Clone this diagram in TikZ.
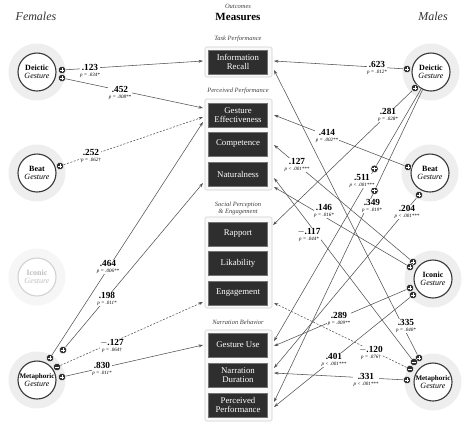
\documentclass[tikz,border=0pt]{standalone}
\usepackage{fontspec}
\setmainfont{Liberation Serif}
\usetikzlibrary{arrows.meta,calc}
\newcommand{\coefl}[2]{\textbf{#1}\\[-3pt]{\fontsize{5}{5}\selectfont\itshape p #2}}
\begin{document}
\begin{tikzpicture}[x=1pt,y=-1pt,
  halo/.style={circle, fill=gray!13, minimum size=57pt, inner sep=0pt},
  gest/.style={circle, draw=black!78, line width=1.1pt, fill=white, minimum size=38pt, inner sep=0pt, align=center, font=\fontsize{8}{8.5}\selectfont},
  fgest/.style={gest, draw=gray!35, text=gray!50},
  meas/.style={rectangle, fill=black!82, draw=black!55, text=white, minimum width=59pt, minimum height=24pt, inner sep=1pt, align=center, font=\fontsize{8.8}{9}\selectfont},
  grp/.style={rectangle, rounded corners=2pt, fill=gray!5, draw=gray!22, line width=1.2pt, minimum width=67pt, inner sep=0pt},
  badge/.style={circle, fill=black!82, draw=white, line width=0.4pt, minimum size=7.5pt, inner sep=0pt},
  plus/.style={badge, path picture={\draw[white, line width=0.9pt] ([xshift=-2.2pt]path picture bounding box.center) -- ([xshift=2.2pt]path picture bounding box.center) ([yshift=-2.2pt]path picture bounding box.center) -- ([yshift=2.2pt]path picture bounding box.center);}},
  minus/.style={badge, path picture={\draw[white, line width=0.9pt] ([xshift=-2.2pt]path picture bounding box.center) -- ([xshift=2.2pt]path picture bounding box.center);}},
  link/.style={draw=black!68, line width=0.55pt, -{Stealth[length=4.5pt,width=3pt]}},
  dlink/.style={link, dash pattern=on 2pt off 1.5pt},
  coef/.style={fill=white, inner sep=0.6pt, align=center, font=\fontsize{9.3}{9}\selectfont},
  sect/.style={font=\fontsize{6.5}{7}\selectfont\itshape, text=black!75, align=center},
  title/.style={font=\fontsize{12}{12}\selectfont\itshape, text=black!80}
]
\useasboundingbox (0,0) rectangle (474,424);

% titles
\node[title] (fem) at (36,16) {Females};
\node[title] (mal) at (433,16) {Males};
\node[sect] (outc) at (238,6) {Outcomes};
\node[font=\fontsize{11}{11}\selectfont\bfseries] (measT) at (238,17) {Measures};

% gesture circles
\foreach \p in {(37,72), (37,173), (37,380), (431,72), (430,173), (433,279), (433,382)}
  \node[halo] at \p {};
\node[halo, fill=gray!7] at (37,277) {};
\node[gest] (dL) at (37,72) {\textbf{Deictic}\\\textit{Gesture}};
\node[gest] (bL) at (37,173) {\textbf{Beat}\\\textit{Gesture}};
\node[fgest] (iL) at (37,277) {\textbf{Iconic}\\\textit{Gesture}};
\node[gest] (mL) at (37,380) {{\fontsize{7}{8}\selectfont\textbf{Metaphoric}}\\\textit{Gesture}};
\node[gest] (dR) at (431,72) {\textbf{Deictic}\\\textit{Gesture}};
\node[gest] (bR) at (430,173) {\textbf{Beat}\\\textit{Gesture}};
\node[gest] (iR) at (433,279) {\textbf{Iconic}\\\textit{Gesture}};
\node[gest] (mR) at (433,382) {{\fontsize{7}{8}\selectfont\textbf{Metaphoric}}\\\textit{Gesture}};

% groups
\node[grp, minimum height=30pt] (gTask) at (238.5,62) {};
\node[grp, minimum height=91pt] (gPerc) at (238.5,144.5) {};
\node[grp, minimum height=91pt] (gSoc) at (238.5,262.5) {};
\node[grp, minimum height=91pt] (gNar) at (238.5,375.5) {};
\node[sect] (sTask) at (238,39) {Task Performance};
\node[sect] (sPerc) at (238,91) {Perceived Performance};
\node[sect] (sSoc) at (238,208) {Social Perception\\\& Engagement};
\node[sect] (sNar) at (238,322) {Narration Behavior};

% measures
\node[meas] (ir) at (238,62) {Information\\Recall};
\node[meas] (ge) at (238,115) {Gesture\\Effectiveness};
\node[meas] (co) at (238,144) {Competence};
\node[meas] (na) at (238,174) {Naturalness};
\node[meas] (ra) at (238,234) {Rapport};
\node[meas] (li) at (238,263.5) {Likability};
\node[meas] (en) at (238,293) {Engagement};
\node[meas] (gu) at (238,345) {Gesture Use};
\node[meas] (nd) at (238,375) {Narration\\Duration};
\node[meas] (pp) at (238,405) {Perceived\\Performance};

% arrow end points
\coordinate (eL1) at (203,61);
\coordinate (eL2) at (203,108);
\coordinate (eL3) at (203,117);
\coordinate (eL4) at (203,122);
\coordinate (eL5) at (203,183);
\coordinate (eL6) at (203,302);
\coordinate (eL7) at (203,345);
\coordinate (eR1) at (274,61);
\coordinate (eR2) at (274,70);
\coordinate (eR3) at (274,115);
\coordinate (eR4) at (274,145);
\coordinate (eR5) at (274,178);
\coordinate (eR6) at (274,187);
\coordinate (eR7) at (273,225);
\coordinate (eR8) at (274,303);
\coordinate (eR9) at (274,341);
\coordinate (eR10) at (274,368);
\coordinate (eR11) at (274,373);
\coordinate (eR12) at (274,346);
\coordinate (eR13) at (274,402);
\coordinate (eR14) at (274,407);

% badges (left)
\node[plus] (b1) at (62,70) {};
\node[plus] (b2) at (62,78) {};
\node[plus] (b3) at (60,166) {};
\node[plus] (b4) at (50,358) {};
\node[plus] (b5) at (63,350) {};
\node[minus] (b6) at (57,367) {};
\node[plus] (b7) at (62,377) {};
% badges (right)
\node[plus] (r1) at (407,69) {};
\node[plus] (r2) at (415,88) {};
\node[plus] (r3) at ($(dR)!0.36!(eR9)$) {};
\node[plus] (r4) at ($(dR)!0.36!(eR13)$) {};
\node[plus] (r5) at (408,167) {};
\node[plus] (r6) at (419,195) {};
\node[plus] (r7) at (413,262) {};
\node[plus] (r8) at (410,267) {};
\node[plus] (r9) at (410,288) {};
\node[plus] (r10) at (413,295) {};
\node[plus] (r11) at (419,358) {};
\node[minus] (r12) at (414,362) {};
\node[minus] (r13) at (410,369) {};
\node[plus] (r14) at (407,380) {};

% left links
\draw[link] (b1) -- (eL1);
\draw[link] (b2) -- (eL2);
\draw[dlink] (b3) -- (eL3);
\draw[link] (b4) -- (eL4);
\draw[link] (b5) -- (eL5);
\draw[dlink] (b6) -- (eL6);
\draw[link] (b7) -- (eL7);

% right links
\draw[link] (r1) -- (eR1);
\draw[link] (r2) -- (eR7);
\draw[link] (dR) -- (r3) -- (eR9);
\draw[link] (dR) -- (r4) -- (eR13);
\draw[link] (r5) -- (eR3);
\draw[link] (r6) -- (eR10);
\draw[link] (r7) -- (eR4);
\draw[link] (r8) -- (eR6);
\draw[link] (r9) -- (eR12);
\draw[link] (r10) -- (eR14);
\draw[link] (r11) -- (eR2);
\draw[link] (r12) -- (eR5);
\draw[dlink] (r13) -- (eR8);
\draw[link] (r14) -- (eR11);

% coefficient labels
\node[coef] (c1) at (90,71) {\coefl{.123}{= .034*}};
\node[coef] (c2) at (120,93) {\coefl{.452}{= .008**}};
\node[coef] (c3) at (91,156) {\coefl{.252}{= .062\textdagger}};
\node[coef] (c4) at (108,267) {\coefl{.464}{= .006**}};
\node[coef] (c5) at (107,299) {\coefl{.198}{= .011*}};
\node[coef] (c6) at (112,346) {\coefl{$-$.127}{= .064\textdagger}};
\node[coef] (c7) at (102,369) {\coefl{.830}{= .011*}};
\node[coef] (d1) at (377,68) {\coefl{.623}{= .012*}};
\node[coef] (d2) at (388,115) {\coefl{.281}{= .028*}};
\node[coef] (d3) at (362,181) {\coefl{.511}{< .001***}};
\node[coef] (d4) at (372,206) {\coefl{.349}{= .019*}};
\node[coef] (d5) at (327,136) {\coefl{.414}{= .002**}};
\node[coef] (d6) at (407,212) {\coefl{.204}{< .001***}};
\node[coef] (d7) at (297,165) {\coefl{.127}{< .001***}};
\node[coef] (d8) at (324,211) {\coefl{.146}{= .016*}};
\node[coef] (d9) at (339,319) {\coefl{.289}{= .009**}};
\node[coef] (d10) at (334,360) {\coefl{.401}{< .001***}};
\node[coef] (d11) at (406,326) {\coefl{.335}{= .040*}};
\node[coef] (d12) at (309,235) {\coefl{$-$.117}{= .044*}};
\node[coef] (d13) at (371,353) {\coefl{$-$.120}{= .076\textdagger}};
\node[coef] (d14) at (366,380) {\coefl{.331}{< .001***}};
\end{tikzpicture}
\end{document}
